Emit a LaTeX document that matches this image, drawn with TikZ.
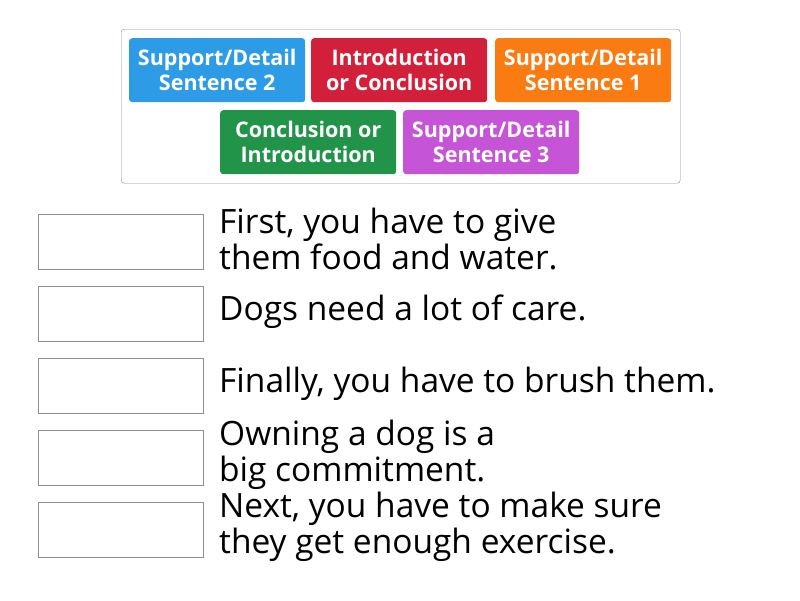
\documentclass[tikz,border=0pt]{standalone}
\usepackage{fontspec}
\setmainfont{Open Sans}
\definecolor{tblue}{HTML}{2E9BE6}
\definecolor{tred}{HTML}{D3203A}
\definecolor{torange}{HTML}{F97B12}
\definecolor{tgreen}{HTML}{22944A}
\definecolor{tpurple}{HTML}{C654D6}
\tikzset{
  tile/.style={rounded corners=3pt,minimum width=176pt,minimum height=64pt,text=white,
    font=\fontsize{21.5}{25}\selectfont\bfseries,align=center,inner sep=0pt,anchor=north west},
  slot/.style={draw=black!45,minimum width=165pt,minimum height=55pt,anchor=north west,inner sep=0pt},
  answer/.style={anchor=west,align=left,font=\fontsize{33.5}{36}\selectfont,inner sep=0pt}
}
\begin{document}
\begin{tikzpicture}[x=1pt,y=-1pt]
	\useasboundingbox[fill=white] (0,0) rectangle (800,600);

	\node[draw=black!45,rounded corners=3pt,minimum width=559pt,minimum height=154pt,anchor=north west] (bank) at (121,29) {};

	\node[tile,fill=tblue]   (sd2)   at (129,38)  {Support/Detail\\Sentence 2};
	\node[tile,fill=tred]    (intro) at (311,38)  {Introduction\\or Conclusion};
	\node[tile,fill=torange] (sd1)   at (495,38)  {Support/Detail\\Sentence 1};
	\node[tile,fill=tgreen]  (concl) at (220,110) {Conclusion or\\Introduction};
	\node[tile,fill=tpurple] (sd3)   at (403,110) {Support/Detail\\Sentence 3};

	\node[slot] (s1) at (38,214) {};
	\node[slot] (s2) at (38,286) {};
	\node[slot] (s3) at (38,358) {};
	\node[slot] (s4) at (38,430) {};
	\node[slot] (s5) at (38,502) {};

	\node[answer] (a1) at (219,239) {First, you have to give\\them food and water.};
	\node[answer] (a2) at (219,312) {Dogs need a lot of care.};
	\node[answer] (a3) at (219,384) {Finally, you have to brush them.};
	\node[answer] (a4) at (219,455) {Owning a dog is a\\big commitment.};
	\node[answer] (a5) at (219,527) {Next, you have to make sure\\they get enough exercise.};

\end{tikzpicture}
\end{document}
